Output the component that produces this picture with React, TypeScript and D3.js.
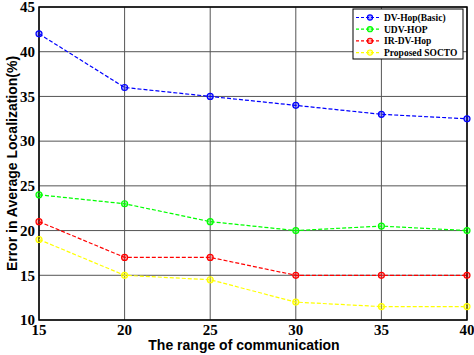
import React from "react";
import * as d3 from "d3";

const ranges = [15, 20, 25, 30, 35, 40];
const dvHopBasic = [42, 36, 35, 34, 33, 32.5];
const udvHop = [24, 23, 21, 20, 20.5, 20];
const irDvHop = [21, 17, 17, 15, 15, 15];
const proposedSocto = [19, 15, 14.5, 12, 11.5, 11.5];
const yTicks = [10, 15, 20, 25, 30, 35, 40, 45];

const seriesNames = ["DV-Hop(Basic)", "UDV-HOP", "IR-DV-Hop", "Proposed SOCTO"];
const seriesColors = ["#0000ff", "#00ff00", "#ff0000", "#ffff00"];
const seriesValues = [dvHopBasic, udvHop, irDvHop, proposedSocto];

export default function App() {
  const W = 474, H = 355;
  const L = 39, R = 467, T = 7, B = 320;
  const x = d3.scaleLinear().domain([15, 40]).range([L, R]);
  const y = d3.scaleLinear().domain([10, 45]).range([B, T]);
  const line = d3.line<number>().x((_, i) => x(ranges[i])).y((d) => y(d));
  const serif = "'Liberation Serif', 'Times New Roman', serif";
  const sans = "'Liberation Sans', Arial, sans-serif";

  const legX = 353, legY = 9, legW = 110, legH = 50;
  return (
    <svg width={W} height={H} style={{ position: "absolute", left: 0, top: 0, background: "#fff" }}>
      <rect x={0} y={0} width={W} height={H} fill="#fff" />
      {ranges.map((r) => (
        <line key={"gx" + r} x1={x(r)} x2={x(r)} y1={T} y2={B} stroke="#555" strokeWidth={1} />
      ))}
      {yTicks.map((t) => (
        <line key={"gy" + t} x1={L} x2={R} y1={y(t)} y2={y(t)} stroke="#555" strokeWidth={1} />
      ))}
      <rect x={L} y={T} width={R - L} height={B - T} fill="none" stroke="#000" strokeWidth={1.5} />
      {seriesValues.map((vals, si) => (
        <g key={"s" + si}>
          <path d={line(vals) || ""} fill="none" stroke={seriesColors[si]} strokeWidth={1.2} strokeDasharray="4,2" />
          {vals.map((v, i) => (
            <circle key={i} cx={x(ranges[i])} cy={y(v)} r={3} fill={seriesColors[si]} fillOpacity={0.35} stroke={seriesColors[si]} strokeWidth={1.2} />
          ))}
        </g>
      ))}
      {yTicks.map((t) => (
        <text key={"ty" + t} x={L - 4} y={y(t)} dy="0.35em" textAnchor="end" fontFamily={serif} fontWeight="bold" fontSize={15} fill="#000">
          {t}
        </text>
      ))}
      {ranges.map((r) => (
        <text key={"tx" + r} x={x(r)} y={B + 15} textAnchor="middle" fontFamily={serif} fontWeight="bold" fontSize={15} fill="#000">
          {r}
        </text>
      ))}
      <text x={244} y={350} textAnchor="middle" fontFamily={sans} fontWeight="bold" fontSize={14} fill="#000">
        The range of communication
      </text>
      <text transform={`translate(17,${(T + B) / 2}) rotate(-90)`} textAnchor="middle" fontFamily={sans} fontWeight="bold" fontSize={14} fill="#000">
        Error in Average Localization(%)
      </text>
      <rect x={legX} y={legY} width={legW} height={legH} fill="#fff" stroke="#000" strokeWidth={1} />
      {seriesNames.map((n, i) => {
        const yy = legY + 8.5 + i * 11.7;
        return (
          <g key={"l" + i}>
            <line x1={legX + 3} x2={legX + 27} y1={yy} y2={yy} stroke={seriesColors[i]} strokeWidth={1.2} strokeDasharray="3,2" />
            <circle cx={legX + 17} cy={yy} r={2.6} fill={seriesColors[i]} fillOpacity={0.35} stroke={seriesColors[i]} strokeWidth={1.1} />
            <text x={legX + 31} y={yy} dy="0.35em" fontFamily={serif} fontWeight="bold" fontSize={9.5} fill="#000">
              {n}
            </text>
          </g>
        );
      })}
    </svg>
  );
}
